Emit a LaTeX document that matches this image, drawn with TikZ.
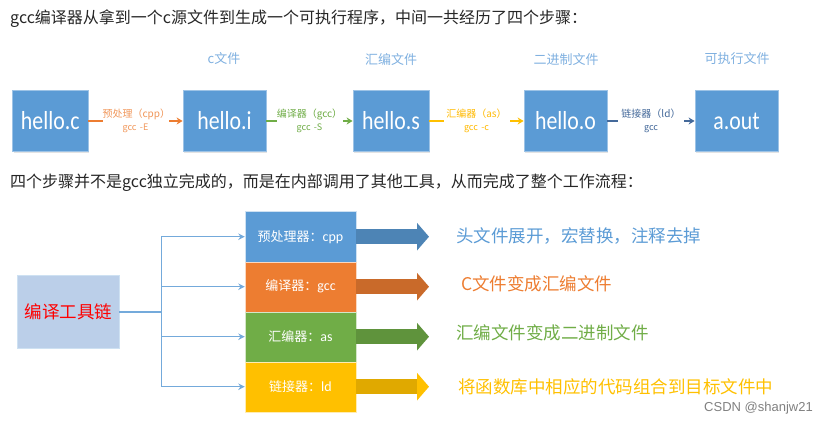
\documentclass[tikz,border=0pt]{standalone}
\usepackage{fontspec}
\setmainfont{Noto Sans CJK SC}
\newfontfamily\latf{Carlito}
\newfontfamily\latb[FakeStretch=0.84]{Carlito}
\newfontfamily\wmf{Liberation Sans}
\usetikzlibrary{arrows.meta,shadows}
\newcommand{\fsz}[1]{\fontsize{#1pt}{#1pt}\selectfont}
\definecolor{cblue}{HTML}{5B9BD5}
\definecolor{corange}{HTML}{ED7D31}
\definecolor{cgreen}{HTML}{70AD47}
\definecolor{cyellow}{HTML}{FFC000}
\definecolor{cslate}{HTML}{44699A}
\definecolor{ctitle}{HTML}{7FB0E0}
\definecolor{cpale}{HTML}{BBCFE9}
\tikzset{
  softshadow/.style={drop shadow={shadow xshift=1pt,shadow yshift=-1.5pt,opacity=.18,fill=black!60}},
  filebox/.style={draw=cblue!60,line width=.8pt,fill=cblue,text=white,minimum height=60.5pt,inner sep=0pt,font=\latb\fsz{26},softshadow},
  caption/.style={text=ctitle,font=\fsz{13},inner sep=0pt},
  steplabel/.style={fill=white,align=center,inner sep=0pt,text width=66pt,font=\fsz{10}},
  flow/.style={line width=1.5pt,-{Stealth[length=6pt,width=7pt]}},
  toolbox/.style={fill=#1,text=white,minimum width=111pt,minimum height=50pt,inner sep=0pt,font=\fsz{13},draw=white!70!#1,line width=.4pt},
  tree/.style={draw=cblue!85!white,line width=1.2pt},
  treearrow/.style={tree,-{Stealth[length=6.5pt,width=6.5pt]}},
  bigarrow/.style={line width=15pt,-{Triangle[length=12pt,width=27pt]}},
  note/.style={anchor=west,inner sep=0pt,font=\fsz{17.5}},
  para/.style={anchor=west,inner sep=0pt,font=\fsz{16},text=black!85},
}
\begin{document}
\begin{tikzpicture}[x=1pt,y=-1pt]
\useasboundingbox (0,0) rectangle (828,425);
\node[para] (line1) at (10,19) {gcc编译器从拿到一个c源文件到生成一个可执行程序，中间一共经历了四个步骤：};
\node[para] (line2) at (10,183) {四个步骤并不是gcc独立完成的，而是在内部调用了其他工具，从而完成了整个工作流程：};

\node[filebox,minimum width=75.5pt] (fc) at (50.25,121) {hello.c};
\node[filebox,minimum width=83pt] (fi) at (224.5,121) {hello.i};
\node[filebox,minimum width=76pt] (fs) at (391,121) {hello.s};
\node[filebox,minimum width=83pt] (fo) at (565.5,121) {hello.o};
\node[filebox,minimum width=83pt] (fa) at (736.5,121) {a.out};

\node[caption] (t1) at (224,59) {c文件};
\node[caption] (t2) at (391,60) {汇编文件};
\node[caption] (t3) at (566,60) {二进制文件};
\node[caption] (t4) at (737,59) {可执行文件};

\draw[flow,draw=corange] (fc) -- node[steplabel,text=corange!80!white] (l1) {预处理（cpp）\\[3pt]{\fsz{9}gcc -E}} (fi);
\draw[flow,draw=cgreen] (fi) -- node[steplabel,text=cgreen] (l2) {编译器（gcc）\\[3pt]{\fsz{9}gcc -S}} (fs);
\draw[flow,draw=cyellow] (fs) -- node[steplabel,text=cyellow!90!orange] (l3) {汇编器（as）\\[3pt]{\fsz{9}gcc -c}} (fo);
\draw[flow,draw=cslate] (fo) -- node[steplabel,text=cslate] (l4) {链接器（ld）\\[3pt]{\fsz{9}gcc}} (fa);

\node[fill=cpale,draw=cblue!30!white,line width=.6pt,minimum width=101.5pt,minimum height=73pt,inner sep=0pt,text=red,font=\fsz{17.5}] (tool) at (68.25,311.5) {编译工具链};
\node[toolbox=cblue] (p1) at (300.5,236.7) {预处理器：{\latf\fsz{14}cpp}};
\node[toolbox=corange] (p2) at (300.5,286.7) {编译器：{\latf\fsz{14}gcc}};
\node[toolbox=cgreen] (p3) at (300.5,336.7) {汇编器：{\latf\fsz{14}as}};
\node[toolbox=cyellow] (p4) at (300.5,386.7) {链接器：{\latf\fsz{14}ld}};

\coordinate (j) at (161.5,311.5);
\draw[tree,line width=2pt] (tool.east) -- (j);
\draw[treearrow] (j) |- (p1.west);
\draw[treearrow] (j) |- (p2.west);
\draw[treearrow] (j) |- (p3.west);
\draw[treearrow] (j) |- (p4.west);

\coordinate (e1) at (429,236.7);
\coordinate (e2) at (429,286.7);
\coordinate (e3) at (429,336.7);
\coordinate (e4) at (429,386.7);
\draw[bigarrow,draw=cblue!85!black] (p1.east) -- (e1);
\draw[bigarrow,draw=corange!85!black] (p2.east) -- (e2);
\draw[bigarrow,draw=cgreen!85!black] (p3.east) -- (e3);
\draw[line width=15pt,draw=cyellow!88!black,-{Triangle[length=12pt,width=27pt,color=cyellow]}] (p4.east) -- (e4);

\node[note,text=cblue] (n1) at (456,236) {头文件展开，宏替换，注释去掉};
\node[note,text=corange] (n2) at (461,283.5) {C文件变成汇编文件};
\node[note,text=cgreen] (n3) at (456,333) {汇编文件变成二进制文件};
\node[note,text=cyellow] (n4) at (458,386.5) {将函数库中相应的代码组合到目标文件中};

\node[anchor=east,inner sep=0pt,text=black!50,font=\wmf\fsz{13}] (wm) at (813,408) {CSDN @shanjw21};
\end{tikzpicture}
\end{document}
